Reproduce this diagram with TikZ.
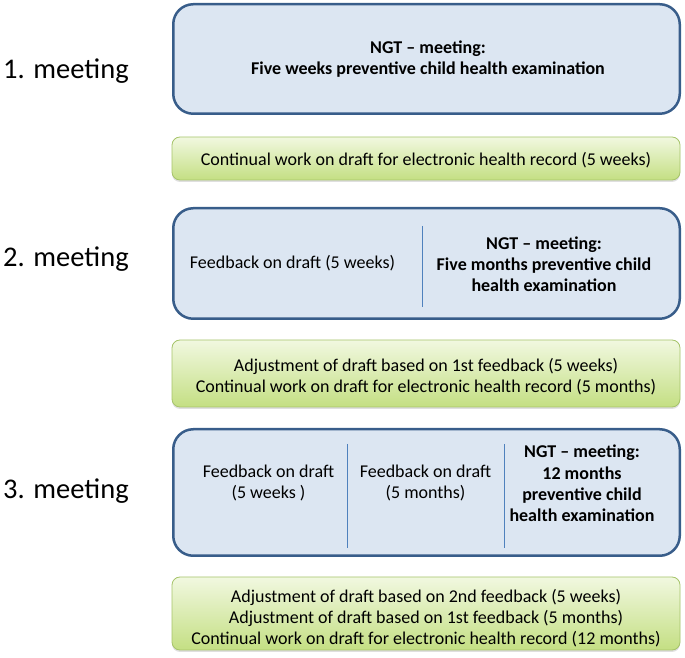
\documentclass[tikz,border=0pt]{standalone}
\usepackage{fontspec}
\setmainfont{Carlito}
\usetikzlibrary{shadows}

\definecolor{azulFundo}{HTML}{DCE6F2}
\definecolor{azulBorda}{HTML}{385D8A}
\definecolor{azulDiv}{HTML}{4F81BD}
\definecolor{verdeTopo}{HTML}{F1F8E0}
\definecolor{verdeBase}{HTML}{C4DF83}
\definecolor{verdeBorda}{HTML}{A6C46A}

\tikzset{
  reuniao/.style={draw=azulBorda, line width=2.5pt, fill=azulFundo,
    rounded corners=20pt, minimum width=506.5pt, inner sep=0pt},
  trabalho/.style={draw=verdeBorda, line width=0.8pt, top color=verdeTopo,
    bottom color=verdeBase, rounded corners=8pt, minimum width=508pt, inner sep=0pt,
    drop shadow={opacity=0.25, shadow xshift=0pt, shadow yshift=-2pt}},
  texto/.style={align=center, inner sep=0pt, font=\fontsize{18}{21.2}\selectfont},
  rotulo/.style={anchor=west, inner sep=0pt, font=\fontsize{28.5}{34}\selectfont},
  divisor/.style={draw=azulDiv, line width=0.8pt}
}

\begin{document}
\begin{tikzpicture}[x=1pt, y=1pt]
\useasboundingbox (0,0) rectangle (685,658);

% Rotulos das reunioes
	\foreach \y [count=\i] in {587, 399, 167}
		\node[rotulo] (meet\i) at (3,\y) {\i. meeting};

% Reunioes
	\node[reuniao, minimum height=109.5pt] (box1) at (426.5,599) {};
	\node[texto] (ngt1) at (428,599) {\textbf{NGT -- meeting:}\\\textbf{Five weeks preventive child health examination}};

	\node[reuniao, minimum height=110.5pt] (box2) at (426.5,394.5) {};
	\node[texto] (fb2) at (292.5,395) {Feedback on draft (5 weeks)};
	\node[texto] (ngt2) at (544,394) {\textbf{NGT -- meeting:}\\\textbf{Five months preventive child}\\\textbf{health examination}};
	\draw[divisor] (422,432) -- (422,351);

	\node[reuniao, minimum height=126.5pt] (box3) at (426.5,165.5) {};
	\node[texto] (fb3a) at (268.5,175) {Feedback on draft\\(5 weeks )};
	\node[texto] (fb3b) at (425.5,175) {Feedback on draft\\(5 months)};
	\node[texto] (ngt3) at (582,174.5) {\textbf{NGT -- meeting:}\\\textbf{12 months}\\\textbf{preventive child}\\\textbf{health examination}};
	\draw[divisor] (347,214) -- (347,110);
	\draw[divisor] (504,214) -- (504,110);

% Trabalho entre reunioes
	\node[trabalho, minimum height=43pt] (work1) at (426,499.5) {};
	\node[texto] (txt1) at (426,498) {Continual work on draft for electronic health record (5 weeks)};

	\node[trabalho, minimum height=67pt] (work2) at (426,284.5) {};
	\node[texto] (txt2) at (426,281) {Adjustment of draft based on 1st feedback (5 weeks)\\Continual work on draft for electronic health record (5 months)};

	\node[trabalho, minimum height=73pt] (work3) at (426,44.5) {};
	\node[texto] (txt3) at (426,40) {Adjustment of draft based on 2nd feedback (5 weeks)\\Adjustment of draft based on 1st feedback (5 months)\\Continual work on draft for electronic health record (12 months)};

\end{tikzpicture}
\end{document}
